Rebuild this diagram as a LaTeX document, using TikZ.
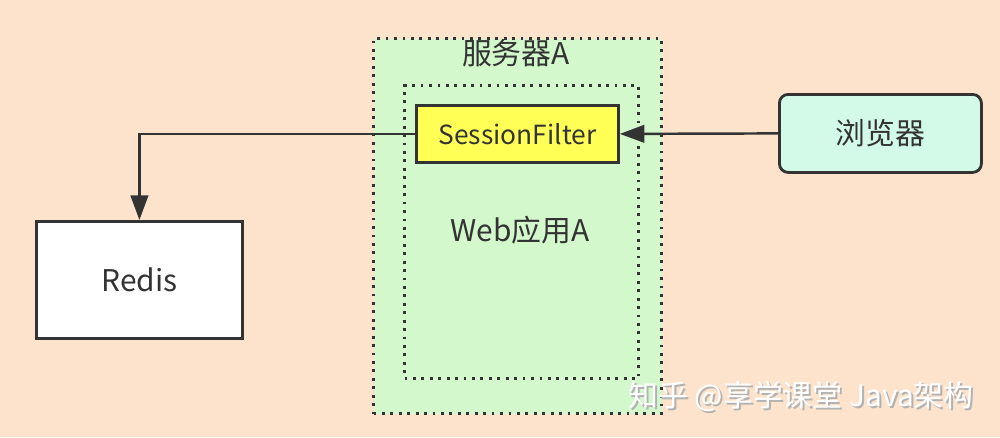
\documentclass[tikz,border=0pt]{standalone}
\usepackage{fontspec}
\setmainfont{Liberation Sans}
\newfontfamily\cjk{Noto Sans CJK SC}
\usetikzlibrary{arrows.meta}
\definecolor{bg}{HTML}{FDE3CB}
\definecolor{srv}{HTML}{D3F8CC}
\definecolor{yel}{HTML}{FFFF55}
\definecolor{brw}{HTML}{D3FAE8}
\definecolor{ln}{HTML}{333333}
\tikzset{box/.style={draw=ln,line width=1.6pt,inner sep=0pt},
dotbox/.style={draw=ln,line width=1.8pt,dash pattern=on 1.6pt off 3.2pt},
lbl/.style={font=\cjk\fontsize{17}{20}\selectfont,text=ln},
conn/.style={draw=ln,line width=1.4pt}}
\begin{document}
\begin{tikzpicture}[x=0.02cm,y=-0.02cm]
\fill[bg] (0,0) rectangle (1000,437);
\useasboundingbox (0,0) rectangle (1000,437);
\node[dotbox,fill=srv,minimum width=288*0.02cm,minimum height=375*0.02cm,anchor=north west] (server) at (372,37) {};
\node[dotbox,minimum width=234*0.02cm,minimum height=293*0.02cm,anchor=north west] (web) at (403,84) {};
\node[lbl] (st) at (516,53) {服务器A};
\node[lbl] (wt) at (520,230) {Web应用A};
\node[box,fill=yel,minimum width=202*0.02cm,minimum height=57*0.02cm,anchor=north west,lbl,font=\cjk\fontsize{15}{18}\selectfont] (sf) at (415,104) {SessionFilter};
\node[box,fill=brw,rounded corners=5pt,minimum width=202*0.02cm,minimum height=78*0.02cm,anchor=north west,lbl] (br) at (778,93) {浏览器};
\node[box,fill=white,minimum width=206*0.02cm,minimum height=117*0.02cm,anchor=north west,lbl] (redis) at (35,220) {Redis};
\draw[conn,-{Triangle[length=14pt,width=10pt]}] (br.west) -- (sf.east);
\draw[conn,-{Triangle[length=14pt,width=10pt]}] (sf.west) -| (redis.north);
\node[font=\cjk\fontsize{17}{20}\selectfont,text=gray!60] at (803,398) {知乎 @享学课堂 Java架构};
\node[font=\cjk\fontsize{17}{20}\selectfont,text=white] (wm) at (801,396) {知乎 @享学课堂 Java架构};
\end{tikzpicture}
\end{document}
